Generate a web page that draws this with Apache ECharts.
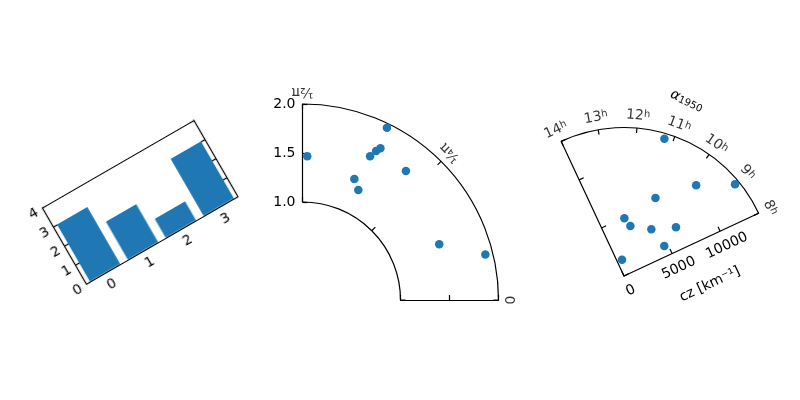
<!DOCTYPE html>
<html><head><meta charset="utf-8">
<script src="https://cdn.jsdelivr.net/npm/echarts@6/dist/echarts.min.js"></script>
<style>
html,body{margin:0;padding:0;background:#fff;width:800px;height:400px;overflow:hidden;}
#main{position:absolute;left:0;top:0;width:800px;height:400px;}
#rot{position:absolute;left:10.4px;top:111.8px;width:260px;height:180px;transform:rotate(-30deg);transform-origin:50% 50%;}
</style></head><body>
<div id="main"></div><div id="rot"></div>
<script>
// ---------- data ----------
// Panel 1: bars on a rotated (x scaled by 2, rotated 30deg) rectangle
const barCats = ['0', '1', '2', '3'];
const barValues = [3, 2, 1, 3];
// Panel 2: quarter annulus, theta in degrees (0..90), radius 1..2
const p2Theta = [88.1, 63.9, 64.8, 63.7, 62.8, 66.8, 63.1, 51.3, 22.2, 14.0];
const p2Radius = [1.467, 1.958, 1.620, 1.695, 1.740, 1.343, 1.259, 1.688, 1.507, 1.923];
const p2AngleTicks = [0, 45, 90];
const p2AngleLabels = ['0', '¼π', '½π'];
// Panel 3: sector, right ascension in hours (8..14), cz (0..14000)
const p3RA = [11.24, 9.77, 8.97, 10.87, 12.31, 11.85, 10.31, 9.21, 8.78, 12.80];
const p3CZ = [13491, 10938, 13575, 7930, 5440, 4752, 5100, 6716, 4736, 1548];
const p3HourTicks = [8, 9, 10, 11, 12, 13, 14];

const FONT = 'DejaVu Sans';
const BLUE = '#1f77b4';
const LW = 1.2;
const line = {lineStyle: {color: '#000', width: LW}};
const tickStyle = {color: '#000', width: LW};
const txt = {color: '#000', fontSize: 14, fontFamily: FONT};

// ---------- panel 1 ----------
const c1 = echarts.init(document.getElementById('rot'), null, {renderer: 'svg'});
c1.setOption({
  animation: false,
  grid: {left: 42.5, top: 46.2, width: 175, height: 87.6, containLabel: false, outerBoundsMode: 'none'},
  xAxis: [
    {type: 'category', data: barCats, position: 'bottom', boundaryGap: true,
     axisLine: {onZero: false, lineStyle: {color: '#000', width: LW}},
     axisTick: {inside: true, alignWithLabel: true, length: 5, lineStyle: tickStyle},
     axisLabel: Object.assign({margin: 5}, txt)},
    {type: 'category', data: barCats, position: 'top', boundaryGap: true,
     axisLine: {onZero: false, lineStyle: {color: '#000', width: LW}},
     axisTick: {inside: true, alignWithLabel: true, length: 5, lineStyle: tickStyle},
     axisLabel: {show: false}}
  ],
  yAxis: [
    {type: 'value', min: 0, max: 4, interval: 1, position: 'left',
     axisLine: {show: true, onZero: false, lineStyle: {color: '#000', width: LW}},
     axisTick: {show: true, inside: true, length: 5, lineStyle: tickStyle},
     splitLine: {show: false}, axisLabel: Object.assign({margin: 6}, txt)},
    {type: 'value', min: 0, max: 4, interval: 1, position: 'right',
     axisLine: {show: true, onZero: false, lineStyle: {color: '#000', width: LW}},
     axisTick: {show: true, inside: true, length: 5, lineStyle: tickStyle},
     splitLine: {show: false}, axisLabel: {show: false}}
  ],
  series: [{type: 'bar', data: barValues, barWidth: '80%', xAxisIndex: 0, yAxisIndex: 0,
            itemStyle: {color: BLUE}}]
});

// ---------- panels 2 & 3 ----------
const C2 = [302.5, 300], R2in = 98, R2out = 196, P2MAX = 2;
const C3 = [624, 276], R3 = 148.5, P3MAX = 14000;
const LABEL_PAD = 12.5; // px between arc and tick-label centre
const noSplit = {splitLine: {show: false}, splitArea: {show: false}};

// tick-label anchors just outside the outer arcs, placed through the polar scales
const p2LabelR = P2MAX * (R2out + LABEL_PAD) / R2out;
const p3LabelR = P3MAX * (R3 + LABEL_PAD) / R3;
const hourToScreenDeg = h => h * 15 - 95;

const chart = echarts.init(document.getElementById('main'), null, {renderer: 'canvas'});
chart.setOption({
  animation: false,
  polar: [
    {center: C2, radius: [R2in, R2out]},   // 0 data + bottom edge
    {center: C2, radius: [R2in, R2out]},   // 1 left edge + labels
    {center: C2, radius: [0, R2out]},      // 2 outer arc
    {center: C2, radius: [0, R2in]},       // 3 inner arc
    {center: C3, radius: [0, R3]},         // 4 data + arc + right edge
    {center: C3, radius: [0, R3]}          // 5 left edge
  ],
  angleAxis: [
    Object.assign({polarIndex: 0, type: 'value', startAngle: 0, endAngle: 90, clockwise: false, min: 0, max: 90, show: false}, noSplit),
    Object.assign({polarIndex: 1, type: 'value', startAngle: 90, endAngle: 0, clockwise: true, min: 0, max: 90, show: false}, noSplit),
    Object.assign({polarIndex: 2, type: 'value', startAngle: 0, endAngle: 90, clockwise: false, min: 0, max: 90, interval: 45,
      axisLine: line, axisTick: {inside: true, length: 5, lineStyle: tickStyle},
      axisLabel: {show: false}}, noSplit),
    Object.assign({polarIndex: 3, type: 'value', startAngle: 0, endAngle: 90, clockwise: false, min: 0, max: 90, interval: 45,
      axisLine: line, axisTick: {inside: false, length: 5, lineStyle: tickStyle},
      axisLabel: {show: false}}, noSplit),
    Object.assign({polarIndex: 4, type: 'value', startAngle: 25, endAngle: 115, clockwise: false, min: 8, max: 14, interval: 1,
      axisLine: line, axisTick: {inside: true, length: 5, lineStyle: tickStyle},
      axisLabel: {show: false}}, noSplit),
    Object.assign({polarIndex: 5, type: 'value', startAngle: 115, endAngle: 25, clockwise: true, min: 8, max: 14, show: false}, noSplit)
  ],
  radiusAxis: [
    Object.assign({polarIndex: 0, type: 'value', min: 1, max: 2, interval: 0.5,
      axisLine: line, axisTick: {show: true, length: 5, lineStyle: tickStyle}, axisLabel: {show: false}}, noSplit),
    Object.assign({polarIndex: 1, type: 'value', min: 1, max: 2, interval: 0.5,
      axisLine: line, axisTick: {show: true, length: -5, lineStyle: tickStyle},
      axisLabel: Object.assign({margin: 7, formatter: v => v.toFixed(1)}, txt)}, noSplit),
    Object.assign({polarIndex: 2, type: 'value', min: 0, max: P2MAX, show: false}, noSplit),
    Object.assign({polarIndex: 3, type: 'value', min: 0, max: 1, show: false}, noSplit),
    Object.assign({polarIndex: 4, type: 'value', min: 0, max: P3MAX, interval: 5000,
      axisLine: line, axisTick: {show: true, length: 5, lineStyle: tickStyle},
      axisLabel: Object.assign({margin: -23, rotate: 25, formatter: v => String(v)}, txt),
      name: 'cz [km⁻¹]', nameLocation: 'middle', nameGap: 37, nameTextStyle: txt}, noSplit),
    Object.assign({polarIndex: 5, type: 'value', min: 0, max: P3MAX, interval: 5000,
      axisLine: line, axisTick: {show: true, length: -5, lineStyle: tickStyle}, axisLabel: {show: false}}, noSplit)
  ],
  graphic: [{
    type: 'text', x: 686.7, y: 100.7, rotation: -25 * Math.PI / 180,
    style: {text: '{a|α}{b|1950}', align: 'center', verticalAlign: 'middle', fill: '#000',
      rich: {a: {fontSize: 14, fontFamily: FONT, fontStyle: 'italic', fill: '#000'},
             b: {fontSize: 10, fontFamily: FONT, fill: '#000', verticalAlign: 'bottom'}}}
  }],
  series: [
    {type: 'scatter', coordinateSystem: 'polar', polarIndex: 0, symbolSize: 8.5,
     itemStyle: {color: BLUE, opacity: 1},
     data: p2Radius.map((r, i) => [r, p2Theta[i]])},
    {type: 'scatter', coordinateSystem: 'polar', polarIndex: 4, symbolSize: 8.5,
     itemStyle: {color: BLUE, opacity: 1},
     data: p3CZ.map((r, i) => [r, p3RA[i]])},
    // angle tick labels of panel 2 (rotated like the reference)
    {type: 'scatter', coordinateSystem: 'polar', polarIndex: 2, symbolSize: 1, silent: true, clip: false,
     itemStyle: {color: 'rgba(0,0,0,0)'},
     label: Object.assign({show: true, position: 'inside', align: 'center', verticalAlign: 'middle',
       formatter: p => p2AngleLabels[p.dataIndex]}, txt),
     data: p2AngleTicks.map(a => ({value: [p2LabelR, a], label: {rotate: a + 90}}))},
    // hour tick labels of panel 3 (tangential)
    {type: 'scatter', coordinateSystem: 'polar', polarIndex: 4, symbolSize: 1, silent: true, clip: false,
     itemStyle: {color: 'rgba(0,0,0,0)'},
     label: {show: true, position: 'inside', align: 'center', verticalAlign: 'middle',
       formatter: p => '{n|' + p3HourTicks[p.dataIndex] + '}{s|h}',
       rich: {n: {fontSize: 14, fontFamily: FONT, color: '#000'},
              s: {fontSize: 10, fontFamily: FONT, color: '#000', verticalAlign: 'top'}}},
     data: p3HourTicks.map(h => ({value: [p3LabelR, h], label: {rotate: hourToScreenDeg(h) - 90}}))}
  ]
});
</script>
</body></html>
